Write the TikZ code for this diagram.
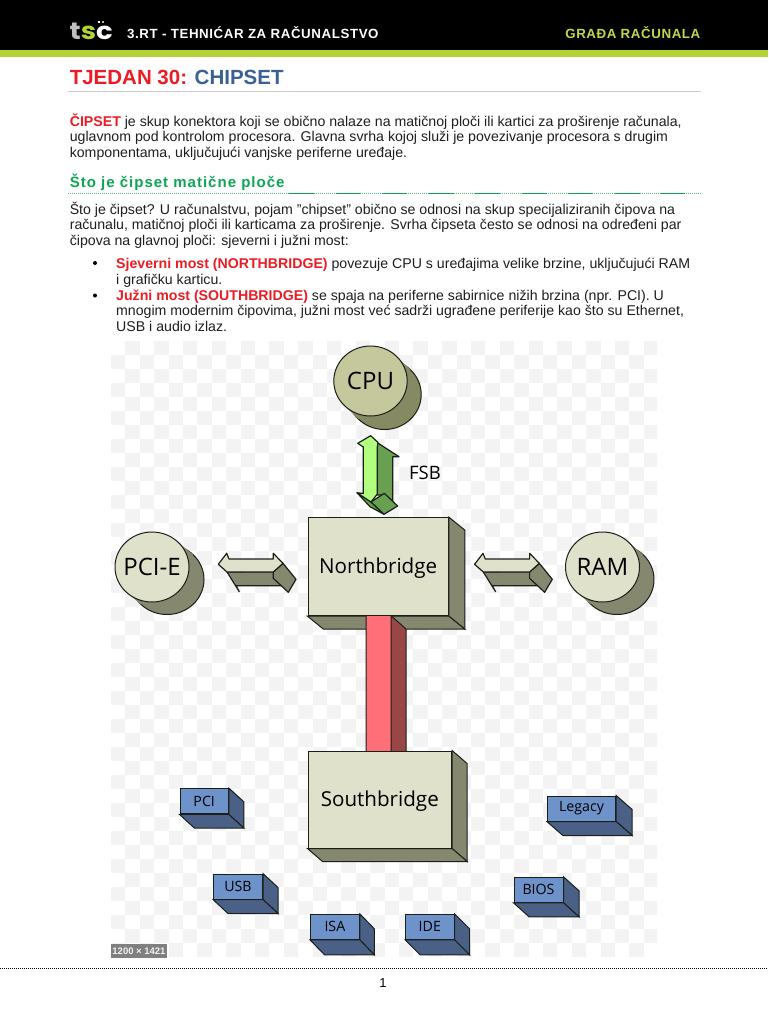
\documentclass[tikz,border=0pt]{standalone}
\usepackage{xcolor}
\usepackage{fontspec}
\setmainfont{Liberation Sans}
\newfontfamily\labelfont{Open Sans}
\newfontfamily\logofont{Poppins}
\usepackage{tikz}
\usetikzlibrary{arrows.meta,positioning,calc,shapes.geometric}
\definecolor{topbar}{HTML}{000000}
\definecolor{lime}{HTML}{B4D334}
\definecolor{limetext}{HTML}{BDD84A}
\definecolor{headred}{HTML}{EC1C24}
\definecolor{headblue}{HTML}{3A6195}
\definecolor{headgreen}{HTML}{0DA655}
\definecolor{bodytext}{HTML}{1E1E1E}
\definecolor{rulegray}{HTML}{C9C9C9}
\definecolor{checker}{HTML}{F3F3F3}
\definecolor{paleface}{HTML}{DFE1CB}
\definecolor{paleside}{HTML}{85876F}
\definecolor{cpuface}{HTML}{C5C89C}
\definecolor{cpuside}{HTML}{868A62}
\definecolor{blueface}{HTML}{6E93CA}
\definecolor{blueside}{HTML}{4A6086}
\definecolor{busface}{HTML}{FF6F78}
\definecolor{busside}{HTML}{994646}
\definecolor{fsbface}{HTML}{B2FF80}
\definecolor{fsbside}{HTML}{689F50}
\definecolor{outline}{HTML}{1A1F1A}
\newcommand{\chipbox}[9]{%
  \node[#9face,minimum width=#4pt,minimum height=#5pt] (#1) at (#2,#3) {#8};
  \draw[#9side] (#1.north east) -- ++(#6,#7) -- ($(#1.south east)+(#6,#7)$) -- (#1.south east) -- cycle;
  \draw[#9side] (#1.south west) -- ++(#6,#7) -- ($(#1.south east)+(#6,#7)$) -- (#1.south east) -- cycle;
}
\newcommand{\chipdisc}[8]{%
  \draw[#8side] (#2+#6,#3+#7) ellipse (#4 and #5);
  \fill[#8side,draw=none] ({#2+.707*#4},{#3-.707*#5}) -- ++(#6,#7) -- ({#2-.707*#4+#6},{#3+.707*#5+#7}) -- ({#2-.707*#4},{#3+.707*#5}) -- cycle;
  \node[#8face,ellipse,minimum width=2*#4pt,minimum height=2*#5pt] (#1) at (#2,#3) {};
  \node[inner sep=0pt,font=\labelfont\fontsize{24}{26}\selectfont] (#1 text) at (#1) {#1};
}
\newcommand{\sidearrow}[1]{%
  \begin{scope}[xshift=#1pt]
    \draw[palearrowside] (227,572) -- (239.3,591.7) -- (236,585.7) -- (282,585.7) -- (273,571.7) -- cycle;
    \draw[palearrowside] (283,563.3) -- (296,579.3) -- (288.3,592.3) -- (273.3,578.3) -- (273.3,572) -- cycle;
    \draw[palearrowface] (218.3,564.3) -- (226.7,553.3) -- (229,559) -- (273.3,559) -- (273.3,553.3) -- (283,563.3) -- (273.3,572) -- (227,572) -- cycle;
  \end{scope}
}
\begin{document}
\begin{tikzpicture}[x=1pt,y=-1pt,
  bodytxt/.style={anchor=north west,inner sep=0pt,align=left,text=bodytext,font=\fontsize{14.15}{15.6}\selectfont},
  largeface/.style={draw=outline,line width=1pt,fill=paleface,inner sep=0pt,text height=15pt,text depth=1pt,font=\labelfont\fontsize{20.6}{23}\selectfont},
  largeside/.style={draw=outline,line width=1pt,fill=paleside},
  smallface/.style={draw=outline,line width=1pt,fill=blueface,inner sep=0pt,font=\labelfont\fontsize{14.2}{16}\selectfont},
  smallside/.style={draw=outline,line width=1pt,fill=blueside},
  discface/.style={draw=outline,line width=1pt,fill=paleface,inner sep=0pt},
  discside/.style={draw=outline,line width=1pt,fill=paleside},
  cpuface/.style={draw=outline,line width=1pt,fill=cpuface,inner sep=0pt},
  cpuside/.style={draw=outline,line width=1pt,fill=cpuside},
  palearrowface/.style={draw=outline,line width=1.2pt,line join=round,fill=paleface},
  palearrowside/.style={draw=outline,line width=1.2pt,line join=round,fill=paleside},
  fsbarrowface/.style={draw=outline,line width=1.2pt,line join=round,fill=fsbface},
  fsbarrowside/.style={draw=outline,line width=1.2pt,line join=round,fill=fsbside}
]
\useasboundingbox (0,0) rectangle (768,1024);
\fill[white] (0,0) rectangle (768,1024);
\fill[topbar] (0,0) rectangle (768,50);
\fill[lime] (0,50) rectangle (768,57.5);
\node[anchor=base west,inner sep=0pt,font=\logofont\bfseries\fontsize{25}{25}\selectfont] (logo) at (69.5,40) {\scalebox{1.1}[.95]{\textcolor{lightgray}{t}\textcolor{lime}{s}\textcolor{white}{c}}};
\fill[white] (97.5,21) rectangle (100,23.5);
\fill[lime] (101.5,21) rectangle (104,23.5);
\node[anchor=base west,inner sep=0pt,text=white,font=\bfseries\fontsize{13.3}{15}\selectfont\addfontfeature{LetterSpace=4.5}] (track) at (127,38.8) {3.RT - TEHNIĆAR ZA RAČUNALSTVO};
\node[anchor=base east,inner sep=0pt,text=limetext,font=\bfseries\fontsize{13.3}{15}\selectfont\addfontfeature{LetterSpace=4.5}] (unit) at (700.5,38.8) {GRAĐA RAČUNALA};
\node[anchor=base west,inner sep=0pt,font=\bfseries\fontsize{20.5}{24}\selectfont] (title) at (69.6,85) {\textcolor{headred}{TJEDAN 30:} \textcolor{headblue}{CHIPSET}};
\draw[draw=rulegray,line width=1pt] (68,91.5) -- (701,91.5);
\node[bodytxt] (intro) at (69.6,113.5) {\textcolor{headred}{\bfseries ČIPSET} je skup konektora koji se obično nalaze na matičnoj ploči ili kartici za proširenje računala,\\ uglavnom pod kontrolom procesora. Glavna svrha kojoj služi je povezivanje procesora s drugim\\ komponentama, uključujući vanjske periferne uređaje.};
\node[anchor=base west,inner sep=0pt,text=headgreen,font=\bfseries\fontsize{15}{17}\selectfont\addfontfeature{LetterSpace=6.7}] (section) at (69.6,188) {Što je čipset matične ploče};
\draw[draw=headgreen!70,line width=1.2pt,dash pattern=on 1pt off 1pt] (68,193.5) -- (701,193.5);
\draw[draw=headgreen,line width=1.5pt,dash pattern=on 25pt off 21.5pt] (289,193.5) -- (685,193.5);
\node[bodytxt] (whatis) at (69.6,201.5) {Što je čipset? U računalstvu, pojam "chipset" obično se odnosi na skup specijaliziranih čipova na\\ računalu, matičnoj ploči ili karticama za proširenje. Svrha čipseta često se odnosi na određeni par\\ čipova na glavnoj ploči: sjeverni i južni most:};
\node[bodytxt] (north) at (116,258) {\textcolor{headred}{\bfseries Sjeverni most (NORTHBRIDGE)} povezuje CPU s uređajima velike brzine, uključujući RAM\\ i grafičku karticu.};
\node[bodytxt] (south) at (116,289.5) {\textcolor{headred}{\bfseries Južni most (SOUTHBRIDGE)} se spaja na periferne sabirnice nižih brzina (npr. PCI). U\\ mnogim modernim čipovima, južni most već sadrži ugrađene periferije kao što su Ethernet,\\ USB i audio izlaz.};
\fill[black] (95,263) circle (2);
\fill[black] (95,295.5) circle (2);
\begin{scope}
  \clip (111,341) rectangle (657,957);
  \foreach \i in {0,...,37} {
    \foreach \j in {0,...,43} {
      \ifodd\numexpr\i+\j\relax
        \fill[checker] (111+\i*14.4,341+\j*14) rectangle ++(14.4,14);
      \fi
    }
  }
\end{scope}
\chipdisc{CPU}{370.5}{381}{36.7}{35}{14}{13.5}{cpu}
\chipdisc{PCI-E}{152}{567}{37}{35}{15}{12.5}{disc}
\chipdisc{RAM}{602.5}{567}{37}{35}{14.5}{12.5}{disc}
\draw[fsbarrowside] (378.3,443.3) -- (399,456.7) -- (392.7,456.7) -- (392.7,501) -- (384,495) -- (375,495) -- (375,443) -- cycle;
\draw[fsbarrowside] (357,492.7) -- (371,502) -- (384,514.3) -- (370,506.7) -- cycle;
\draw[fsbarrowside] (371,502) -- (384.3,493.3) -- (397.7,506) -- (384,514.3) -- cycle;
\draw[fsbarrowface] (370.7,435.7) -- (357.7,443.3) -- (363.3,447) -- (363.3,493.5) -- (357,492.7) -- (371,502) -- (377.3,494) -- (377.3,447) -- (378,442.5) -- cycle;
\node[inner sep=0pt,font=\labelfont\fontsize{18.5}{20}\selectfont] (fsb) at (425,472.5) {FSB};
\sidearrow{0}
\sidearrow{256.3}
\chipbox{Northbridge}{378.2}{566.7}{140.4}{98}{16}{13}{Northbridge}{large}
\fill[busface] (366,615.7) rectangle (391,751);
\fill[busside] (391,615.7) -- (406,629) -- (406,751) -- (391,751) -- cycle;
\draw[draw=outline,line width=1pt] (366,615.7) -- (366,751) (391,615.7) -- (391,751) (406,629) -- (406,751) (391,615.7) -- (406,629);
\chipbox{Southbridge}{379.8}{799.5}{143.6}{97}{15}{13}{Southbridge}{large}
\chipbox{PCI}{204.2}{801.3}{48.4}{25.3}{15}{13.7}{PCI}{small}
\chipbox{Legacy}{581.5}{808.5}{68.3}{25}{16}{14}{Legacy}{small}
\chipbox{USB}{238}{886.5}{49}{25}{15}{14}{USB}{small}
\chipbox{BIOS}{538.5}{889.8}{49}{25}{15.5}{14}{BIOS}{small}
\chipbox{ISA}{334.9}{926.8}{48.8}{25}{14.5}{15}{ISA}{small}
\chipbox{IDE}{429.8}{926.8}{48.5}{25}{15}{15}{IDE}{small}
\node[fill=gray,minimum width=56pt,minimum height=13.5pt,inner sep=0pt,text=white!90!gray,font=\bfseries\fontsize{9.5}{11}\selectfont] (size) at (139,951) {1200 × 1421};
\draw[draw=black,line width=.8pt,dash pattern=on 1pt off 1pt] (0,968) -- (768,968);
\node[inner sep=0pt,font=\fontsize{13}{15}\selectfont] (page) at (383,983) {1};
\end{tikzpicture}
\end{document}
